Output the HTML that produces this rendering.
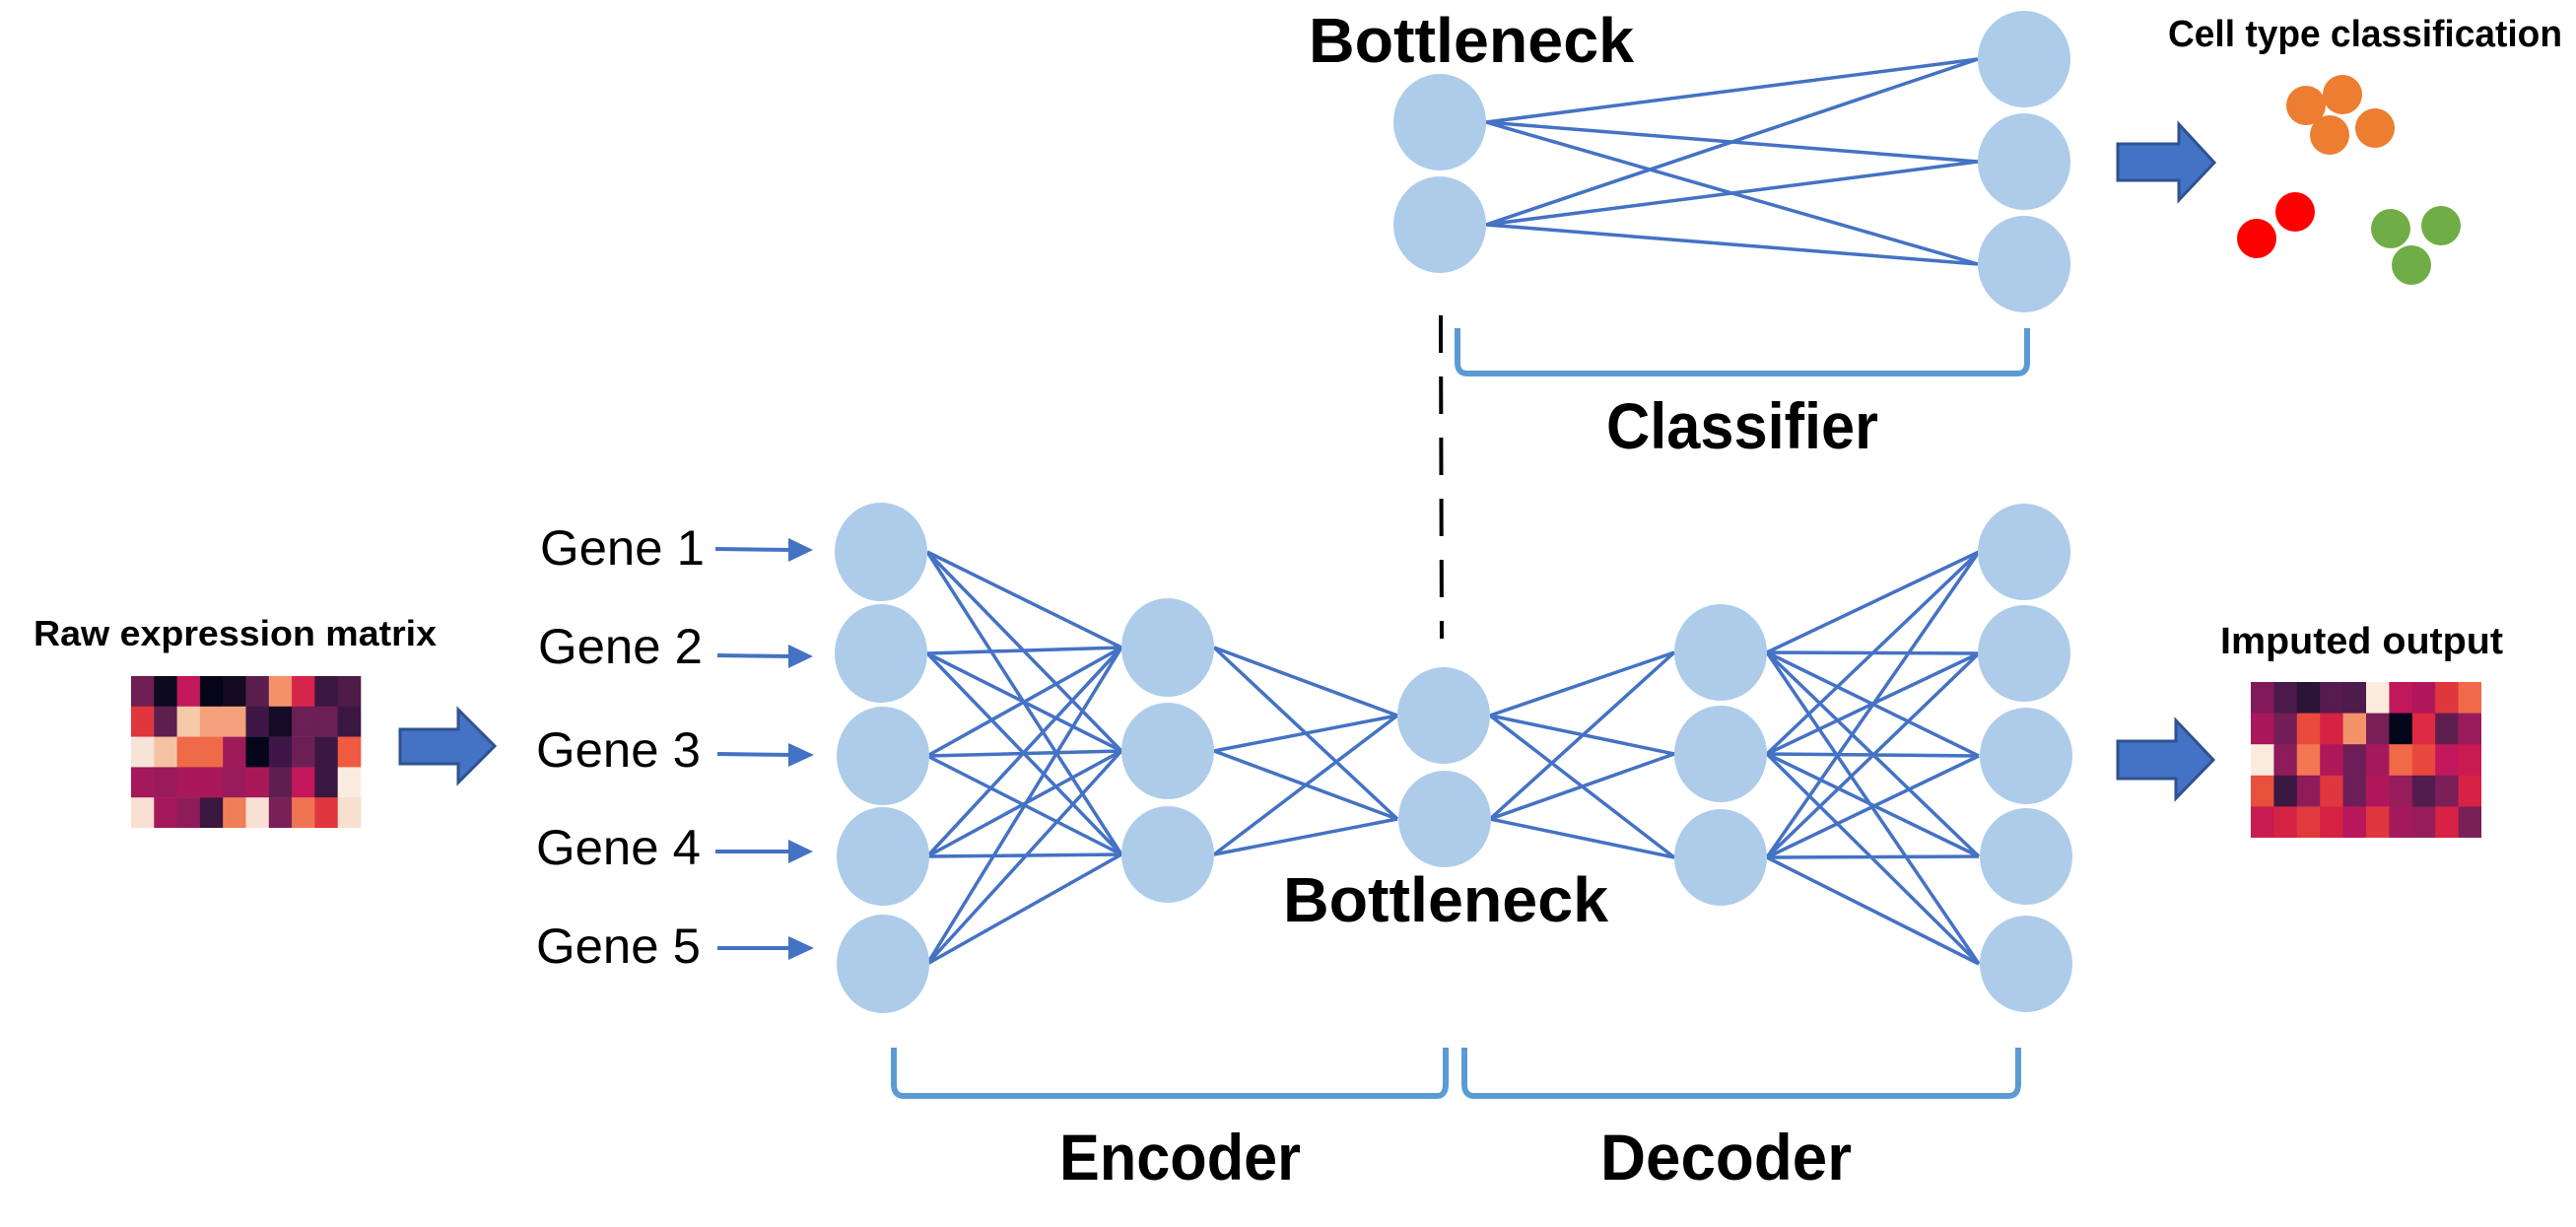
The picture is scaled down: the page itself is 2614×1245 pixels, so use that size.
<!DOCTYPE html>
<html><head><meta charset="utf-8"><style>html,body{margin:0;padding:0;background:#fff}svg{display:block}</style></head>
<body>
<svg width="2614" height="1245" viewBox="0 0 2614 1245" xmlns="http://www.w3.org/2000/svg" font-family="Liberation Sans, sans-serif">
<g id="lines" stroke="#4472C4" stroke-width="3.5" fill="none">
<!-- layer1 -> layer2 -->
<path d="M941 560L1138 657M941 560L1138 762M941 560L1138 867
M941 663L1138 657M941 663L1138 762M941 663L1138 867
M941 767L1138 657M941 767L1138 762M941 767L1138 867
M941 869L1138 657M941 869L1138 762M941 869L1138 867
M941 978L1138 657M941 978L1138 762M941 978L1138 867"/>
<!-- layer2 -> bottleneck -->
<path d="M1232 657L1418 726M1232 657L1418 831M1232 762L1418 726M1232 762L1418 831M1232 867L1418 726M1232 867L1418 831"/>
<!-- bottleneck -> decoder -->
<path d="M1512 726L1699 662M1512 726L1699 765M1512 726L1699 870M1512 831L1699 662M1512 831L1699 765M1512 831L1699 870"/>
<!-- decoder -> output -->
<path d="M1793 662L2008 560M1793 662L2008 663M1793 662L2008 767M1793 662L2008 869M1793 662L2008 978
M1793 765L2008 560M1793 765L2008 663M1793 765L2008 767M1793 765L2008 869M1793 765L2008 978
M1793 870L2008 560M1793 870L2008 663M1793 870L2008 767M1793 870L2008 869M1793 870L2008 978"/>
<!-- classifier -->
<path d="M1508 124L2007 60M1508 124L2007 164M1508 124L2007 268M1508 228L2007 60M1508 228L2007 164M1508 228L2007 268"/>
</g>
<g fill="#ADCCE9">
<ellipse cx="894" cy="560" rx="47" ry="50"/><ellipse cx="894" cy="663" rx="47" ry="50"/><ellipse cx="896" cy="767" rx="47" ry="50"/><ellipse cx="896" cy="869" rx="47" ry="50"/><ellipse cx="896" cy="978" rx="47" ry="50"/>
<ellipse cx="1185" cy="657" rx="47" ry="50"/><ellipse cx="1185" cy="762" rx="47" ry="49"/><ellipse cx="1185" cy="867" rx="47" ry="49"/>
<ellipse cx="1465" cy="726" rx="47" ry="49"/><ellipse cx="1466" cy="831" rx="47" ry="49"/>
<ellipse cx="1746" cy="662" rx="47" ry="49"/><ellipse cx="1746" cy="765" rx="47" ry="49"/><ellipse cx="1746" cy="870" rx="47" ry="49"/>
<ellipse cx="2054" cy="560" rx="47" ry="49"/><ellipse cx="2054" cy="663" rx="47" ry="49"/><ellipse cx="2056" cy="767" rx="47" ry="49"/><ellipse cx="2056" cy="869" rx="47" ry="49"/><ellipse cx="2056" cy="978" rx="47" ry="49"/>
<ellipse cx="1461" cy="124" rx="47" ry="49"/><ellipse cx="1461" cy="228" rx="47" ry="49"/>
<ellipse cx="2054" cy="60" rx="47" ry="49"/><ellipse cx="2054" cy="164" rx="47" ry="49"/><ellipse cx="2054" cy="268" rx="47" ry="49"/>
</g>
<!-- dashed -->
<line x1="1462" y1="320" x2="1463" y2="648" stroke="#000" stroke-width="4" stroke-dasharray="38,24"/>
<!-- brackets -->
<g stroke="#5B9BD5" stroke-width="6" fill="none">
<path d="M907 1063 L907 1100 Q907 1112 917 1112 L1458 1112 Q1467 1112 1467 1100 L1467 1063"/>
<path d="M1486 1063 L1486 1100 Q1486 1112 1496 1112 L2038 1112 Q2048 1112 2048 1100 L2048 1063"/>
<path d="M1479 333 L1479 368 Q1479 379 1489 379 L2047 379 Q2057 379 2057 368 L2057 333"/>
</g>
<!-- gene arrows -->
<g stroke="#4472C4" stroke-width="4" fill="#4472C4">
<line x1="726" y1="557" x2="805" y2="558"/><path d="M800 546L825 558L800 570Z" stroke="none"/>
<line x1="728" y1="665" x2="805" y2="666"/><path d="M800 654L825 666L800 678Z" stroke="none"/>
<line x1="728" y1="765" x2="805" y2="766"/><path d="M800 754L826 766L800 778Z" stroke="none"/>
<line x1="726" y1="864" x2="805" y2="864"/><path d="M800 852L825 864L800 876Z" stroke="none"/>
<line x1="728" y1="962" x2="805" y2="962"/><path d="M800 950L826 962L800 974Z" stroke="none"/>
</g>
<!-- block arrows -->
<g fill="#4472C4" stroke="#2F528F" stroke-width="3">
<path d="M406 740L465 740L465 720L502 757L465 794L465 775L406 775Z"/>
<path d="M2149 752L2208 752L2208 731L2246 771L2208 810L2208 790L2149 790Z"/>
<path d="M2149 146L2211 146L2211 126L2247 165L2211 203L2211 183L2149 183Z"/>
</g>
<!-- dots -->
<g fill="#ED7D31"><ellipse cx="2340" cy="107" rx="20" ry="20"/><ellipse cx="2377" cy="96" rx="20" ry="20"/><ellipse cx="2410" cy="130" rx="20" ry="20"/><ellipse cx="2364" cy="137" rx="20" ry="20"/></g>
<g fill="#FF0000"><ellipse cx="2329" cy="215" rx="20" ry="20"/><ellipse cx="2290" cy="242" rx="20" ry="20"/></g>
<g fill="#70AD47"><ellipse cx="2426" cy="232" rx="20" ry="20"/><ellipse cx="2477" cy="229" rx="20" ry="20"/><ellipse cx="2447" cy="269" rx="20" ry="20"/></g>
<!-- raw matrix -->
<g transform="translate(133,686)">
<g id="r1"><rect x="0" y="0" width="24" height="31" fill="#6e1e52"/><rect x="23.3" y="0" width="24" height="31" fill="#0d0a1f"/><rect x="46.6" y="0" width="24" height="31" fill="#c2185b"/><rect x="69.9" y="0" width="24" height="31" fill="#050318"/><rect x="93.2" y="0" width="24" height="31" fill="#120b22"/><rect x="116.5" y="0" width="24" height="31" fill="#5a1f4f"/><rect x="139.8" y="0" width="24" height="31" fill="#f3916a"/><rect x="163.1" y="0" width="24" height="31" fill="#d6254a"/><rect x="186.4" y="0" width="24" height="31" fill="#3a1740"/><rect x="209.7" y="0" width="23.6" height="31" fill="#4f1c49"/></g>
<rect x="0" y="30.8" width="24" height="31" fill="#e0363e"/><rect x="23.3" y="30.8" width="24" height="31" fill="#5e1f50"/><rect x="46.6" y="30.8" width="24" height="31" fill="#f6c9a8"/><rect x="69.9" y="30.8" width="24" height="31" fill="#f3a07b"/><rect x="93.2" y="30.8" width="24" height="31" fill="#f3a07b"/><rect x="116.5" y="30.8" width="24" height="31" fill="#3e1645"/><rect x="139.8" y="30.8" width="24" height="31" fill="#140c26"/><rect x="163.1" y="30.8" width="24" height="31" fill="#6b1f55"/><rect x="186.4" y="30.8" width="24" height="31" fill="#6b1f55"/><rect x="209.7" y="30.8" width="23.6" height="31" fill="#3a1740"/>
<rect x="0" y="61.6" width="24" height="31" fill="#f7e4d8"/><rect x="23.3" y="61.6" width="24" height="31" fill="#f6c3a2"/><rect x="46.6" y="61.6" width="24" height="31" fill="#ef6a48"/><rect x="69.9" y="61.6" width="24" height="31" fill="#ef6a48"/><rect x="93.2" y="61.6" width="24" height="31" fill="#9e1a5a"/><rect x="116.5" y="61.6" width="24" height="31" fill="#03051a"/><rect x="139.8" y="61.6" width="24" height="31" fill="#3e1645"/><rect x="163.1" y="61.6" width="24" height="31" fill="#6b1f55"/><rect x="186.4" y="61.6" width="24" height="31" fill="#3a1740"/><rect x="209.7" y="61.6" width="23.6" height="31" fill="#ef5a40"/>
<rect x="0" y="92.4" width="24" height="31" fill="#a3195b"/><rect x="23.3" y="92.4" width="24" height="31" fill="#9a1b5b"/><rect x="46.6" y="92.4" width="24" height="31" fill="#a8185b"/><rect x="69.9" y="92.4" width="24" height="31" fill="#a8185b"/><rect x="93.2" y="92.4" width="24" height="31" fill="#9a1b5b"/><rect x="116.5" y="92.4" width="24" height="31" fill="#ab185a"/><rect x="139.8" y="92.4" width="24" height="31" fill="#5e1f50"/><rect x="163.1" y="92.4" width="24" height="31" fill="#c2185b"/><rect x="186.4" y="92.4" width="24" height="31" fill="#3a1740"/><rect x="209.7" y="92.4" width="23.6" height="31" fill="#faebe0"/>
<rect x="0" y="123.2" width="24" height="30.8" fill="#f8e0d2"/><rect x="23.3" y="123.2" width="24" height="30.8" fill="#a3195b"/><rect x="46.6" y="123.2" width="24" height="30.8" fill="#8e1c5a"/><rect x="69.9" y="123.2" width="24" height="30.8" fill="#3a1740"/><rect x="93.2" y="123.2" width="24" height="30.8" fill="#f07f59"/><rect x="116.5" y="123.2" width="24" height="30.8" fill="#f8e0d2"/><rect x="139.8" y="123.2" width="24" height="30.8" fill="#7a1f58"/><rect x="163.1" y="123.2" width="24" height="30.8" fill="#f07452"/><rect x="186.4" y="123.2" width="24" height="30.8" fill="#e0363e"/><rect x="209.7" y="123.2" width="23.6" height="30.8" fill="#f8e0d0"/>
</g>
<!-- imputed matrix -->
<g transform="translate(2284,692)">
<rect x="0" y="0" width="24" height="32" fill="#82195b"/><rect x="23.4" y="0" width="24" height="32" fill="#4a1a4a"/><rect x="46.8" y="0" width="24" height="32" fill="#2a1438"/><rect x="70.2" y="0" width="24" height="32" fill="#561c50"/><rect x="93.6" y="0" width="24" height="32" fill="#4e1b4c"/><rect x="117" y="0" width="24" height="32" fill="#faebdd"/><rect x="140.4" y="0" width="24" height="32" fill="#c0185b"/><rect x="163.8" y="0" width="24" height="32" fill="#b0175a"/><rect x="187.2" y="0" width="24" height="32" fill="#e0363e"/><rect x="210.6" y="0" width="23.4" height="32" fill="#f06a4a"/>
<rect x="0" y="31.6" width="24" height="32" fill="#a8185b"/><rect x="23.4" y="31.6" width="24" height="32" fill="#741e58"/><rect x="46.8" y="31.6" width="24" height="32" fill="#ea4a3c"/><rect x="70.2" y="31.6" width="24" height="32" fill="#d62245"/><rect x="93.6" y="31.6" width="24" height="32" fill="#f3936a"/><rect x="117" y="31.6" width="24" height="32" fill="#7a1f58"/><rect x="140.4" y="31.6" width="24" height="32" fill="#03051a"/><rect x="163.8" y="31.6" width="24" height="32" fill="#dc2a44"/><rect x="187.2" y="31.6" width="24" height="32" fill="#5e1f50"/><rect x="210.6" y="31.6" width="23.4" height="32" fill="#9a1b5b"/>
<rect x="0" y="63.2" width="24" height="32" fill="#faebdd"/><rect x="23.4" y="63.2" width="24" height="32" fill="#8e1c5a"/><rect x="46.8" y="63.2" width="24" height="32" fill="#f27752"/><rect x="70.2" y="63.2" width="24" height="32" fill="#ae185a"/><rect x="93.6" y="63.2" width="24" height="32" fill="#6e1e56"/><rect x="117" y="63.2" width="24" height="32" fill="#a3195b"/><rect x="140.4" y="63.2" width="24" height="32" fill="#f06a48"/><rect x="163.8" y="63.2" width="24" height="32" fill="#e8473c"/><rect x="187.2" y="63.2" width="24" height="32" fill="#c2185b"/><rect x="210.6" y="63.2" width="23.4" height="32" fill="#c81b4f"/>
<rect x="0" y="94.8" width="24" height="32" fill="#e8503c"/><rect x="23.4" y="94.8" width="24" height="32" fill="#3a1740"/><rect x="46.8" y="94.8" width="24" height="32" fill="#8e1c5a"/><rect x="70.2" y="94.8" width="24" height="32" fill="#e0363e"/><rect x="93.6" y="94.8" width="24" height="32" fill="#6e1e56"/><rect x="117" y="94.8" width="24" height="32" fill="#b0175a"/><rect x="140.4" y="94.8" width="24" height="32" fill="#961c5a"/><rect x="163.8" y="94.8" width="24" height="32" fill="#521c4e"/><rect x="187.2" y="94.8" width="24" height="32" fill="#7a1f58"/><rect x="210.6" y="94.8" width="23.4" height="32" fill="#d62245"/>
<rect x="0" y="126.4" width="24" height="31.6" fill="#c81b4f"/><rect x="23.4" y="126.4" width="24" height="31.6" fill="#d62245"/><rect x="46.8" y="126.4" width="24" height="31.6" fill="#e03a3e"/><rect x="70.2" y="126.4" width="24" height="31.6" fill="#d62245"/><rect x="93.6" y="126.4" width="24" height="31.6" fill="#b8175a"/><rect x="117" y="126.4" width="24" height="31.6" fill="#e0363e"/><rect x="140.4" y="126.4" width="24" height="31.6" fill="#a3195b"/><rect x="163.8" y="126.4" width="24" height="31.6" fill="#961c5a"/><rect x="187.2" y="126.4" width="24" height="31.6" fill="#d62245"/><rect x="210.6" y="126.4" width="23.4" height="31.6" fill="#7a1f58"/>
</g>
<!-- text -->
<g fill="#000">
<text x="34" y="655" font-size="36" font-weight="bold" textLength="409" lengthAdjust="spacingAndGlyphs">Raw expression matrix</text>
<text x="548" y="573" font-size="50" textLength="167" lengthAdjust="spacingAndGlyphs">Gene 1</text>
<text x="546" y="673" font-size="50" textLength="167" lengthAdjust="spacingAndGlyphs">Gene 2</text>
<text x="544" y="778" font-size="50" textLength="167" lengthAdjust="spacingAndGlyphs">Gene 3</text>
<text x="544" y="877" font-size="50" textLength="167" lengthAdjust="spacingAndGlyphs">Gene 4</text>
<text x="544" y="977" font-size="50" textLength="167" lengthAdjust="spacingAndGlyphs">Gene 5</text>
<text x="1302" y="935" font-size="64" font-weight="bold" textLength="330" lengthAdjust="spacingAndGlyphs">Bottleneck</text>
<text x="1328" y="63" font-size="64" font-weight="bold" textLength="330" lengthAdjust="spacingAndGlyphs">Bottleneck</text>
<text x="1075" y="1197" font-size="66" font-weight="bold" textLength="245" lengthAdjust="spacingAndGlyphs">Encoder</text>
<text x="1624" y="1197" font-size="66" font-weight="bold" textLength="255" lengthAdjust="spacingAndGlyphs">Decoder</text>
<text x="1630" y="455" font-size="66" font-weight="bold" textLength="276" lengthAdjust="spacingAndGlyphs">Classifier</text>
<text x="2200" y="47" font-size="38" font-weight="bold" textLength="400" lengthAdjust="spacingAndGlyphs">Cell type classification</text>
<text x="2253" y="663" font-size="38" font-weight="bold" textLength="287" lengthAdjust="spacingAndGlyphs">Imputed output</text>
</g>
</svg>
</body></html>
